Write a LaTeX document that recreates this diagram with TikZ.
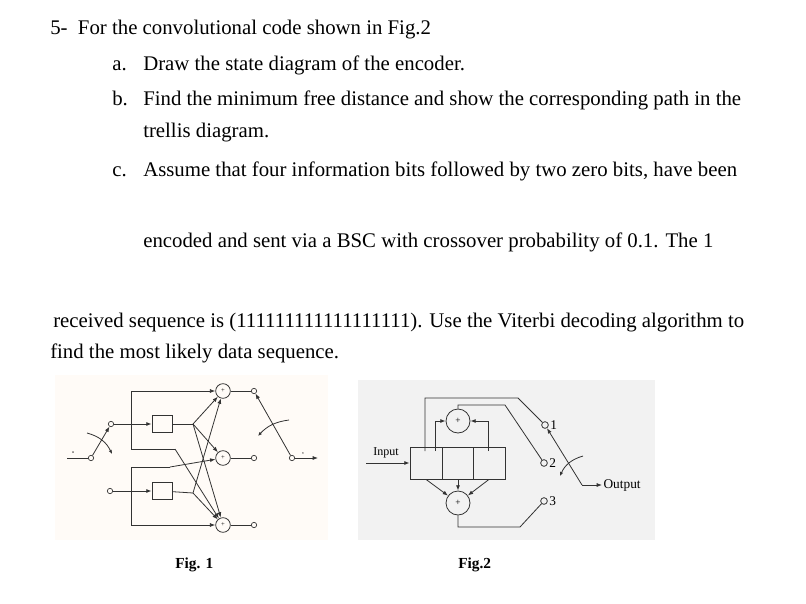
\documentclass[tikz,border=0pt]{standalone}
\usepackage{fontspec}
\setmainfont{Liberation Serif}
\usetikzlibrary{arrows.meta}
\begin{document}
\begin{tikzpicture}[x=0.75pt,y=-0.75pt,
  txt/.style={anchor=base west,font=\fontsize{15.6}{18}\selectfont,inner sep=0},
  ln/.style={draw=black!80,line width=0.6pt},
  ar/.style={ln,-{Latex[length=4pt,width=3pt]}},
  add/.style={circle,draw=black!80,line width=0.6pt,minimum size=11pt,inner sep=0,font=\tiny},
  add2/.style={circle,draw=black!80,line width=0.6pt,minimum size=18pt,inner sep=0,font=\scriptsize},
  reg/.style={draw=black!80,line width=0.6pt,minimum width=15pt,minimum height=13pt,inner sep=0},
  term/.style={circle,draw=black!80,line width=0.5pt,minimum size=4pt,inner sep=0},
  term2/.style={circle,draw=black!80,line width=0.6pt,minimum size=5pt,inner sep=0}]
\useasboundingbox (0,0) rectangle (806,603);
\fill[white] (0,0) rectangle (806,603);
% text
\node[txt] (q) at (50,34) {5-\ \ For the convolutional code shown in Fig.2};
\node[txt] (a) at (112,70) {a.};
\node[txt] (at) at (143,70) {Draw the state diagram of the encoder.};
\node[txt] (b) at (112,105) {b.};
\node[txt] (bt) at (143,105) {Find the minimum free distance and show the corresponding path in the};
\node[txt] (bt2) at (143,137) {trellis diagram.};
\node[txt] (c) at (112,176) {c.};
\node[txt] (ct) at (143,176) {Assume that four information bits followed by two zero bits, have been};
\node[txt] (ct2) at (143,247) {encoded and sent via a BSC with crossover probability of 0.1. The 1};
\node[txt] (r1) at (53,327) {received sequence is (111111111111111111). Use the Viterbi decoding algorithm to};
\node[txt] (r2) at (50,358) {find the most likely data sequence.};
\node[txt,font=\bfseries\fontsize{11.5}{13}\selectfont] (f1) at (175,568) {Fig. 1};
\node[txt,font=\bfseries\fontsize{11.5}{13}\selectfont] (f2) at (458,568) {Fig.2};
% backgrounds
\fill[red!4!orange!3] (55,375) rectangle (328,540);
\fill[black!5] (358,380) rectangle (655,540);
% ---------- Fig 1 ----------
\node[add] (A1) at (223,391) {+};
\node[add] (A2) at (223,458) {+};
\node[add] (A3) at (223,525) {+};
\node[reg] (B1) at (162,424) {};
\node[reg] (B2) at (162,491) {};
\node[term] (ui) at (91,458) {};
\node[term] (s1) at (111,424) {};
\node[term] (s2) at (110,491) {};
\node[term] (o1) at (254,391) {};
\node[term] (o2) at (254,458) {};
\node[term] (o3) at (254,525) {};
\node[term] (ov) at (292,458) {};
\coordinate (uin) at (67,458);
\coordinate (vout) at (318,458);
\coordinate (j1) at (131,424);
\coordinate (j2) at (131,491);
\coordinate (n1) at (193,424);
\coordinate (n2) at (193,493);
\node[font=\fontsize{3}{3}\selectfont] (ul) at (73,453) {u};
\node[font=\fontsize{3}{3}\selectfont] (vl) at (303,454) {v};
\draw[ln] (uin) -- (ui);
\draw[ar] (ui) -- (s1);
\draw[ar] (s1) -- (B1);
\draw[ar] (j1) |- (A1);
\draw[ln] (j1) -- (131,449) -- (175,449);
\draw[ar] (175,449) -- (A3);
\draw[ar] (s2) -- (B2);
\draw[ln] (j2) -- (131,467) -- (170,467);
\draw[ar] (170,467) -- (A2);
\draw[ar] (j2) |- (A3);
\draw[ln] (B1) -- (n1);
\draw[ln] (B2) -- (n2);
\draw[ar] (n1) -- (A1);
\draw[ar] (n1) -- (A2);
\draw[ar] (n1) -- (A3);
\draw[ar] (n2) -- (A1);
\draw[ar] (n2) -- (A3);
\draw[ln] (A1) -- (o1);
\draw[ln] (A2) -- (o2);
\draw[ln] (A3) -- (o3);
\draw[ar] (ov) -- (o1);
\draw[ar] (ov) -- (vout);
\draw[ln,-{Latex[length=3pt,width=2.5pt]}] (87,433) to[bend left=25] (112,454);
\draw[ln,-{Latex[length=3pt,width=2.5pt]}] (289,420) to[bend right=20] (258,436);
% ---------- Fig 2 ----------
\node[reg,minimum width=24pt,minimum height=24pt] (R1) at (426,463) {};
\node[reg,minimum width=23pt,minimum height=24pt] (R2) at (458,463) {};
\node[reg,minimum width=24pt,minimum height=24pt] (R3) at (489,463) {};
\node[add2] (T) at (458,421) {+};
\node[add2] (U) at (458,503) {+};
\node[term2] (c1) at (545,425) {};
\node[term2] (c2) at (544,463) {};
\node[term2] (c3) at (544,501) {};
\node[anchor=west,font=\fontsize{10}{11}\selectfont,inner sep=1pt] (l1) at (c1.east) {1};
\node[anchor=west,font=\fontsize{10}{11}\selectfont,inner sep=1pt] (l2) at (c2.east) {2};
\node[anchor=west,font=\fontsize{10}{11}\selectfont,inner sep=1pt] (l3) at (c3.east) {3};
\node[font=\fontsize{9}{10}\selectfont] (inl) at (386,453) {Input};
\coordinate (inp) at (366,463);
\draw[ar] (inp) -- (R1);
\draw[ln] (425,451) -- (425,398) -- (518,398) -- (c1);
\draw[ln] (T.north) -- (458,405) -- (505,405) -- (c2);
\draw[ar] (435,451) -- (435,421) -- (T);
\draw[ar] (488,451) -- (488,421) -- (T);
\draw[ar] (R1.south) -- (U);
\draw[ar] (R2.south) -- (U);
\draw[ar] (R3.south) -- (U);
\draw[ln] (U.south) -- (458,527) -- (520,527) -- (c3);
\coordinate (sw) at (582,485);
\coordinate (op) at (602,485);
\draw[ar] (sw) -- (c1);
\draw[ar] (sw) -- (op);
\node[anchor=west,font=\fontsize{10}{11}\selectfont,inner sep=1pt] (outl) at (op) {Output};
\draw[ln,-{Latex[length=3pt,width=2.5pt]}] (583,456) to[bend right=25] (560,476);
\end{tikzpicture}
\end{document}
